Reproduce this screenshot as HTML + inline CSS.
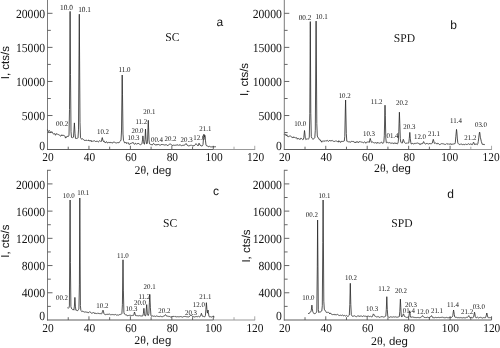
<!DOCTYPE html>
<html><head><meta charset="utf-8"><title>XRD patterns</title>
<style>html,body{margin:0;padding:0;background:#fff;}svg{display:block;}</style></head>
<body>
<svg width="500" height="348" viewBox="0 0 500 348" text-rendering="geometricPrecision">
<rect width="500" height="348" fill="#fff"/>
<path d="M47.5 -2 V149.95" stroke="#6c6c6c" stroke-width="0.9" fill="none"/>
<path d="M47.05 149.5 H213.3" stroke="#555" stroke-width="0.95" fill="none"/>
<path d="M213.3 149.5 H255.15" stroke="#8c8c8c" stroke-width="0.9" fill="none"/>
<path d="M47.5 115.53 h5 M47.5 81.46 h5 M47.5 47.39 h5 M47.5 13.32 h5 M47.5 132.56 h3.3 M47.5 98.5 h3.3 M47.5 64.42 h3.3 M47.5 30.36 h3.3 M68.22 149.5 v-2.8 M88.95 149.5 v-3.7 M109.67 149.5 v-2.8 M130.4 149.5 v-3.7 M151.12 149.5 v-2.8 M171.85 149.5 v-3.7 M192.57 149.5 v-2.8 M213.3 149.5 v-3.7 " stroke="#555" stroke-width="0.9" fill="none"/>
<path d="M234.02 149.5 v-2.8 M254.75 149.5 v-3.7 " stroke="#999" stroke-width="0.85" fill="none"/>
<text transform="translate(45.1 149.94) scale(1 1.06)" font-size="11.7" font-family='"Liberation Serif", serif' text-anchor="end" fill="#141414">0</text>
<text transform="translate(45.1 120.47) scale(1 1.06)" font-size="11.7" font-family='"Liberation Serif", serif' text-anchor="end" fill="#141414">5000</text>
<text transform="translate(45.1 86.4) scale(1 1.06)" font-size="11.7" font-family='"Liberation Serif", serif' text-anchor="end" fill="#141414">10000</text>
<text transform="translate(45.1 52.33) scale(1 1.06)" font-size="11.7" font-family='"Liberation Serif", serif' text-anchor="end" fill="#141414">15000</text>
<text transform="translate(45.1 18.26) scale(1 1.06)" font-size="11.7" font-family='"Liberation Serif", serif' text-anchor="end" fill="#141414">20000</text>
<text transform="translate(48 161.18) scale(1 1.06)" font-size="11.4" font-family='"Liberation Serif", serif' text-anchor="middle" fill="#141414">20</text>
<text transform="translate(89.45 161.18) scale(1 1.06)" font-size="11.4" font-family='"Liberation Serif", serif' text-anchor="middle" fill="#141414">40</text>
<text transform="translate(130.9 161.18) scale(1 1.06)" font-size="11.4" font-family='"Liberation Serif", serif' text-anchor="middle" fill="#141414">60</text>
<text transform="translate(172.35 161.18) scale(1 1.06)" font-size="11.4" font-family='"Liberation Serif", serif' text-anchor="middle" fill="#141414">80</text>
<text transform="translate(214.1 161.18) scale(1 1.06)" font-size="11.4" font-family='"Liberation Serif", serif' text-anchor="middle" fill="#141414">100</text>
<text transform="translate(255.55 161.18) scale(1 1.06)" font-size="11.4" font-family='"Liberation Serif", serif' text-anchor="middle" fill="#141414">120</text>
<text transform="translate(9.2 62.7) rotate(-90)" font-size="11.5" font-family='"Liberation Sans", sans-serif' text-anchor="middle" fill="#141414">I, cts/s</text>
<text x="153" y="173.5" font-size="11.4" text-anchor="middle" fill="#141414" font-family='"Liberation Sans", sans-serif'><tspan font-family='"Liberation Serif", serif' font-size="11.8">2θ</tspan>, deg</text>
<path d="M47.5 129.64 L48 130.63 L48.5 131.51 L49 131.07 L49.5 130.59 L50 131.33 L50.5 132.05 L51 132.81 L51.5 131.86 L52 131.63 L52.5 132.82 L53 133.24 L53.5 134.1 L54 134.21 L54.5 133.75 L55 133.61 L55.5 135.25 L56 134.35 L56.5 133.87 L57 133.61 L57.5 134.29 L58 134.66 L58.5 134.62 L59 134.85 L59.5 135.2 L60 135.63 L60.5 136.07 L61 135.85 L61.5 134.81 L62 135.82 L62.5 135.15 L63 135.64 L63.5 135.22 L64 135.89 L64.5 135.8 L65 136.33 L65.5 138.12 L66 137.11 L66.5 137.24 L67 136.23 L67.5 136.37 L68 136.81 L68.5 136.35 L69 135.15 L69.5 109.52 L70.1 11.4 L70.5 74.63 L71 131.49 L71.5 137.34 L72 137.18 L72.5 137.77 L73 137.67 L73.5 137.18 L74 129.15 L74.4 122.9 L75 133.72 L75.5 138.39 L76 138.66 L76.5 138.46 L77 137.92 L77.5 138.28 L78 137.75 L78.5 129.89 L79 55.14 L79.3 14.2 L80 122.63 L80.5 137.75 L81 138.68 L81.5 139.03 L82 138.9 L82.5 138.75 L83 139.04 L83.5 139.64 L84 140.31 L84.5 140.36 L85 140.46 L85.5 140.42 L86 140.41 L86.5 140.24 L87 140.47 L87.5 141.02 L88 140.35 L88.5 140.01 L89 141.05 L89.5 140.73 L90 140.96 L90.5 141.03 L91 140.26 L91.5 141.51 L92 141.71 L92.5 141.15 L93 141.23 L93.5 141.03 L94 140.58 L94.5 140.77 L95 141.07 L95.5 141.51 L96 141.53 L96.5 141.31 L97 141.78 L97.5 141.13 L98 141.55 L98.5 141.86 L99 141.43 L99.5 140.71 L100 140.84 L100.5 141.35 L101 141.57 L101.5 141.28 L102 138.19 L102.3 137.6 L103 140.61 L103.5 141.58 L104 140.86 L104.5 141.83 L105 142.77 L105.5 142.63 L106 141.87 L106.5 141.82 L107 142.08 L107.5 143.05 L108 142.71 L108.5 142.42 L109 142.89 L109.5 142.46 L110 143.07 L110.5 142.35 L111 142.2 L111.5 142.61 L112 143.04 L112.5 142.93 L113 142.78 L113.5 141.96 L114 142.11 L114.5 142.22 L115 142.3 L115.5 142.76 L116 142.6 L116.5 142.96 L117 142.83 L117.5 142.62 L118 142.66 L118.5 142.7 L119 142.72 L119.5 142.02 L120 141.55 L120.5 140.56 L121 140.47 L121.5 130.96 L122.2 75 L122.5 94.82 L123 134.12 L123.5 140.45 L124 141.47 L124.5 142.8 L125 142.83 L125.5 142.66 L126 142.14 L126.5 143.36 L127 143.41 L127.5 142.84 L128 143.29 L128.5 142.85 L129 144.46 L129.5 144.24 L130 143.99 L130.5 143.67 L131 142.91 L131.5 143.3 L132 142.71 L132.5 142.75 L132.8 142.6 L133.5 142.75 L134 143.9 L134.5 144.4 L135 143.64 L135.5 143.27 L136 143.96 L136.5 144.21 L137 143.7 L137.5 143.64 L138 143.63 L138.5 143.47 L139 143.6 L139.5 144.29 L140 144.35 L140.5 144.83 L141 144.29 L141.5 144.07 L142 143.44 L142.5 139.87 L142.9 135.9 L143.5 141.56 L144 143.91 L144.5 144.19 L145 139.38 L145.5 129 L146 139.25 L146.5 143.62 L147 143.91 L147.5 141.84 L148 127.17 L148.3 120.3 L149 139.86 L149.5 143.8 L150 144.25 L150.5 144.21 L151 144.82 L151.5 144.66 L152 144.74 L152.5 144.9 L153 143.88 L153.5 143.4 L154 144.02 L154.5 144.32 L155 144.95 L155.5 144.87 L156 145.06 L156.5 145.06 L157 144.2 L157.5 144.77 L158 144.55 L158.5 144.46 L159 144.54 L159.5 144.94 L160 145.13 L160.5 145.24 L161 144.48 L161.5 144.55 L162 144.05 L162.5 144.57 L163 144.97 L163.5 144.71 L164 144.93 L164.5 145.01 L165 145.28 L165.5 144.84 L166 144.69 L166.5 144.66 L167 145.41 L167.5 145.48 L168 145.13 L168.5 145.04 L169 144.73 L169.5 144.26 L170 143.9 L170.5 144.09 L171 144.3 L171.5 144.68 L172 145.48 L172.5 145.43 L173 145.28 L173.5 145.15 L174 145.2 L174.5 145.31 L175 145.06 L175.5 145.23 L176 145.31 L176.5 145.06 L177 144.96 L177.5 144.88 L178 144.84 L178.5 145.39 L179 144.66 L179.5 145.01 L180 145.04 L180.5 145.06 L181 145.28 L181.5 145.65 L182 145.49 L182.5 145.37 L183 145.2 L183.5 145.28 L184 145.59 L184.5 145.24 L185 144.59 L185.5 143.87 L186 144 L186.5 143.8 L187 145.08 L187.5 145.46 L188 145.43 L188.5 145.88 L189 145.45 L189.5 145.7 L190 145.8 L190.5 145.19 L191 144.98 L191.5 145.09 L192 145.64 L192.5 145.95 L193 145.36 L193.5 145.78 L194 145.54 L194.5 145.44 L195 145.24 L195.5 144.44 L196 143.6 L196.5 144.14 L197 144.95 L197.5 145.53 L198 145.99 L198.5 145.36 L199 143.2 L199.5 144.04 L200 145.21 L200.5 145.27 L201 146.05 L201.5 145.92 L202 145.5 L202.5 145.7 L203 144.54 L203.5 138.19 L203.9 134.2 L204.5 136.62 L205 135.5 L205.5 140.83 L206 144.91 L206.5 145.76 L207 145.81 L207.5 145.89 L208 146.65 L208.5 146.7 L209 146.78 L209.5 146.34 L210 146.54 L210.5 146.84 L211 146.46 L211.5 146.89 L212 146.7 L212.5 146.82 L213 146.75 L213.5 146.81 L214 147.06 L214.5 146.78 L215 147.14 L215.5 146.73 L216 146.55" stroke="#262626" stroke-width="0.8" fill="none" stroke-linejoin="round"/>
<text transform="translate(66.4 9.55) scale(1 1.06)" font-size="7.3" font-family='"Liberation Serif", serif' text-anchor="middle" fill="#141414">10.0</text>
<text transform="translate(84.6 11.85) scale(1 1.06)" font-size="7.3" font-family='"Liberation Serif", serif' text-anchor="middle" fill="#141414">10.1</text>
<text transform="translate(124.6 71.65) scale(1 1.06)" font-size="7.0" font-family='"Liberation Serif", serif' text-anchor="middle" fill="#141414">11.0</text>
<text transform="translate(62.1 125.81) scale(1 1.06)" font-size="6.9" font-family='"Liberation Serif", serif' text-anchor="middle" fill="#141414">00.2</text>
<text transform="translate(103 134.21) scale(1 1.06)" font-size="6.9" font-family='"Liberation Serif", serif' text-anchor="middle" fill="#141414">10.2</text>
<text transform="translate(149.4 113.61) scale(1 1.06)" font-size="6.9" font-family='"Liberation Serif", serif' text-anchor="middle" fill="#141414">20.1</text>
<text transform="translate(141.3 124.01) scale(1 1.06)" font-size="6.9" font-family='"Liberation Serif", serif' text-anchor="middle" fill="#141414">11.2</text>
<text transform="translate(137.5 133.41) scale(1 1.06)" font-size="6.9" font-family='"Liberation Serif", serif' text-anchor="middle" fill="#141414">20.0</text>
<text transform="translate(133.5 140.31) scale(1 1.06)" font-size="6.9" font-family='"Liberation Serif", serif' text-anchor="middle" fill="#141414">10.3</text>
<text transform="translate(157 142.21) scale(1 1.06)" font-size="6.9" font-family='"Liberation Serif", serif' text-anchor="middle" fill="#141414">00.4</text>
<text transform="translate(170.5 141.11) scale(1 1.06)" font-size="6.9" font-family='"Liberation Serif", serif' text-anchor="middle" fill="#141414">20.2</text>
<text transform="translate(186.6 141.81) scale(1 1.06)" font-size="6.9" font-family='"Liberation Serif", serif' text-anchor="middle" fill="#141414">20.3</text>
<text transform="translate(199.4 140.11) scale(1 1.06)" font-size="6.9" font-family='"Liberation Serif", serif' text-anchor="middle" fill="#141414">12.0</text>
<text transform="translate(205.4 130.71) scale(1 1.06)" font-size="6.9" font-family='"Liberation Serif", serif' text-anchor="middle" fill="#141414">21.1</text>
<text transform="translate(172.4 41.3) scale(1 1.03)" font-size="11.6" font-family='"Liberation Serif", serif' text-anchor="middle" fill="#141414">SC</text>
<text transform="translate(219.9 25.7) scale(1 1)" font-size="12" font-family='"Liberation Sans", sans-serif' text-anchor="middle" fill="#141414">a</text>
<path d="M284.3 -2 V149.95" stroke="#6c6c6c" stroke-width="0.9" fill="none"/>
<path d="M283.85 149.5 H450.1" stroke="#555" stroke-width="0.95" fill="none"/>
<path d="M450.1 149.5 H491.95" stroke="#8c8c8c" stroke-width="0.9" fill="none"/>
<path d="M284.3 115.53 h5 M284.3 81.46 h5 M284.3 47.39 h5 M284.3 13.32 h5 M284.3 132.56 h3.3 M284.3 98.5 h3.3 M284.3 64.42 h3.3 M284.3 30.36 h3.3 M305.03 149.5 v-2.8 M325.75 149.5 v-3.7 M346.48 149.5 v-2.8 M367.2 149.5 v-3.7 M387.93 149.5 v-2.8 M408.65 149.5 v-3.7 M429.38 149.5 v-2.8 M450.1 149.5 v-3.7 " stroke="#555" stroke-width="0.9" fill="none"/>
<path d="M470.82 149.5 v-2.8 M491.55 149.5 v-3.7 " stroke="#999" stroke-width="0.85" fill="none"/>
<text transform="translate(281.9 149.94) scale(1 1.06)" font-size="11.7" font-family='"Liberation Serif", serif' text-anchor="end" fill="#141414">0</text>
<text transform="translate(281.9 120.47) scale(1 1.06)" font-size="11.7" font-family='"Liberation Serif", serif' text-anchor="end" fill="#141414">5000</text>
<text transform="translate(281.9 86.4) scale(1 1.06)" font-size="11.7" font-family='"Liberation Serif", serif' text-anchor="end" fill="#141414">10000</text>
<text transform="translate(281.9 52.33) scale(1 1.06)" font-size="11.7" font-family='"Liberation Serif", serif' text-anchor="end" fill="#141414">15000</text>
<text transform="translate(281.9 18.26) scale(1 1.06)" font-size="11.7" font-family='"Liberation Serif", serif' text-anchor="end" fill="#141414">20000</text>
<text transform="translate(284.8 161.18) scale(1 1.06)" font-size="11.4" font-family='"Liberation Serif", serif' text-anchor="middle" fill="#141414">20</text>
<text transform="translate(326.25 161.18) scale(1 1.06)" font-size="11.4" font-family='"Liberation Serif", serif' text-anchor="middle" fill="#141414">40</text>
<text transform="translate(367.7 161.18) scale(1 1.06)" font-size="11.4" font-family='"Liberation Serif", serif' text-anchor="middle" fill="#141414">60</text>
<text transform="translate(409.15 161.18) scale(1 1.06)" font-size="11.4" font-family='"Liberation Serif", serif' text-anchor="middle" fill="#141414">80</text>
<text transform="translate(449.7 161.18) scale(1 1.06)" font-size="11.4" font-family='"Liberation Serif", serif' text-anchor="middle" fill="#141414">100</text>
<text transform="translate(491.15 161.18) scale(1 1.06)" font-size="11.4" font-family='"Liberation Serif", serif' text-anchor="middle" fill="#141414">120</text>
<text transform="translate(248.2 79.5) rotate(-90)" font-size="11.5" font-family='"Liberation Sans", sans-serif' text-anchor="middle" fill="#141414">I, cts/s</text>
<text x="392.5" y="172.4" font-size="11.4" text-anchor="middle" fill="#141414" font-family='"Liberation Sans", sans-serif'><tspan font-family='"Liberation Serif", serif' font-size="11.8">2θ</tspan>, deg</text>
<path d="M284.3 134.48 L284.8 133.91 L285.3 134.25 L285.8 135.21 L286.3 135.85 L286.8 134.64 L287.3 135.55 L287.8 136.71 L288.3 136.87 L288.8 136.31 L289.3 136.04 L289.8 136.22 L290.3 135.95 L290.8 136.4 L291.3 136.7 L291.8 136.91 L292.3 137.73 L292.8 137.4 L293.3 136.78 L293.8 137.85 L294.3 137.28 L294.8 137.45 L295.3 137.73 L295.8 137.79 L296.3 137.57 L296.8 137.91 L297.3 139.22 L297.8 138.44 L298.3 138.43 L298.8 139.07 L299.3 139.16 L299.8 139.25 L300.3 139.37 L300.8 138.16 L301.3 138.28 L301.8 138.81 L302.3 139.19 L302.8 139.7 L303.3 139.43 L303.8 137.52 L304.5 130.5 L304.8 132.82 L305.3 138.32 L305.8 139.57 L306.3 139.29 L306.8 138.94 L307.3 138.69 L307.8 139.26 L308.3 139.21 L308.8 138.54 L309.3 137.17 L309.8 113.33 L310.3 21.6 L310.8 113.28 L311.3 136.51 L311.8 137.99 L312.3 138.43 L312.8 139.29 L313.3 138.94 L313.8 138.74 L314.3 138.39 L314.8 137.8 L315.3 130.28 L315.8 61.96 L316.1 21.1 L316.8 123.68 L317.3 136.06 L317.8 137.14 L318.3 138.21 L318.8 138.29 L319.3 139.68 L319.8 139.84 L320.3 139.84 L320.8 141.14 L321.3 141.07 L321.8 142.24 L322.3 141.39 L322.8 140.8 L323.3 140.81 L323.8 141.45 L324.3 141.02 L324.8 141.09 L325.3 141.16 L325.8 140.61 L326.3 140.87 L326.8 140.72 L327.3 140.38 L327.8 141.14 L328.3 141.34 L328.8 141.18 L329.3 140.75 L329.8 140.17 L330.3 140.99 L330.8 141.05 L331.3 140.45 L331.8 140.91 L332.3 140.5 L332.8 140.97 L333.3 141.22 L333.8 141.4 L334.3 141.42 L334.8 141.43 L335.3 140.92 L335.8 141.05 L336.3 141.06 L336.8 141.19 L337.3 141.45 L337.8 141.69 L338.3 142.19 L338.8 140.71 L339.3 141.37 L339.8 141.38 L340.3 142.37 L340.8 142.19 L341.3 141.11 L341.8 141.55 L342.3 141.33 L342.8 141.83 L343.3 141.17 L343.8 141.24 L344.3 140.95 L344.8 136.33 L345.3 111.01 L345.6 100 L346.3 133.33 L346.8 141.26 L347.3 141.57 L347.8 141.26 L348.3 141.66 L348.8 141.96 L349.3 141.81 L349.8 141.83 L350.3 142.41 L350.8 141.65 L351.3 141.61 L351.8 141.1 L352.3 141.39 L352.8 141.5 L353.3 141.46 L353.8 141.56 L354.3 142.56 L354.8 142.16 L355.3 142.06 L355.8 142.92 L356.3 142.37 L356.8 141.55 L357.3 142.09 L357.8 141.78 L358.3 142.66 L358.8 141.88 L359.3 141.87 L359.8 141.49 L360.3 142.01 L360.8 141.79 L361.3 142.07 L361.8 142.07 L362.3 141.99 L362.8 142.55 L363.3 142.76 L363.8 142.51 L364.3 142.07 L364.8 141.87 L365.3 142.3 L365.8 143.26 L366.3 142.54 L366.8 142.17 L367.3 142.08 L367.8 141.91 L368.3 141.89 L368.8 142.14 L369.3 142.43 L369.8 140.03 L370.2 138.4 L370.8 140.35 L371.3 142.19 L371.8 142.46 L372.3 142.08 L372.8 142.01 L373.3 142.38 L373.8 142.9 L374.3 142.96 L374.8 142.83 L375.3 142.6 L375.8 142.76 L376.3 142.71 L376.8 143.49 L377.3 142.57 L377.8 142.53 L378.3 143.12 L378.8 142.77 L379.3 143.27 L379.8 142.92 L380.3 142.86 L380.8 142.66 L381.3 142.22 L381.8 142.21 L382.3 143.33 L382.8 143.12 L383.3 142.94 L383.8 142.56 L384.3 135.74 L385 105.2 L385.3 115.47 L385.8 138.07 L386.3 142.69 L386.8 142.68 L387.3 142.32 L387.8 142.61 L388.3 142.62 L388.8 143.05 L389.3 142.74 L389.8 142.53 L390.3 142.72 L390.8 143.47 L391.3 143.17 L391.8 143.15 L392.3 143.09 L392.8 143.18 L393.3 143.44 L393.8 143.7 L394.3 142.72 L394.8 143.44 L395.3 143.21 L395.8 143.01 L396.3 143.89 L396.8 143.27 L397.3 143.75 L397.8 143.45 L398.3 141.47 L398.8 131.74 L399.4 112.2 L399.8 123.5 L400.3 138.68 L400.8 142.3 L401.3 142.79 L401.8 142.56 L402.3 143.03 L402.8 140.88 L403.3 139.3 L403.8 140.7 L404.3 142.34 L404.8 142.82 L405.3 143.18 L405.8 143.38 L406.3 143.18 L406.8 143.25 L407.3 142.83 L407.8 143.33 L408.3 143.04 L408.8 142.86 L409.3 138.39 L409.8 132.4 L410.3 138.7 L410.8 142.5 L411.3 144.06 L411.8 143.65 L412.3 143.51 L412.8 143.24 L413.3 143.96 L413.8 144.15 L414.3 143.85 L414.8 143.18 L415.3 143.25 L415.8 143.66 L416.3 143.43 L416.8 143.13 L417.3 143.03 L417.8 143.14 L418.3 143.45 L418.8 143.34 L419.3 143.53 L419.8 144.55 L420.3 144.56 L420.8 143.62 L421.3 143.76 L421.8 143.72 L422.3 143.61 L422.8 143.65 L423.3 142.08 L423.6 141.6 L424.3 142.99 L424.8 143.56 L425.3 144.11 L425.8 144.13 L426.3 143.43 L426.8 143.49 L427.3 143.4 L427.8 143.92 L428.3 143.9 L428.8 144.12 L429.3 143.89 L429.8 143.19 L430.3 143.74 L430.8 143.85 L431.3 143.97 L431.8 143.35 L432.3 143.02 L432.8 140.79 L433.3 139.3 L433.8 141.07 L434.3 143.27 L434.8 143.51 L435.3 143.19 L435.8 142.83 L436.3 143.33 L436.8 144.08 L437.3 143.96 L437.8 143.2 L438.3 143.4 L438.8 143.89 L439.3 144.49 L439.8 144.53 L440.3 144.29 L440.8 144.15 L441.3 143.7 L441.8 143.74 L442.3 143.8 L442.8 143.68 L443.3 143.92 L443.8 143.86 L444.3 144.08 L444.8 144.52 L445.3 144.45 L445.8 144.33 L446.3 144.07 L446.8 143.57 L447.3 143.86 L447.8 144.17 L448.3 143.78 L448.8 144.39 L449.3 144.08 L449.8 144.21 L450.3 144.03 L450.8 143.67 L451.3 144.62 L451.8 143.9 L452.3 144.32 L452.8 143.99 L453.3 144.13 L453.8 143.81 L454.3 143.77 L454.8 143.92 L455.3 142.74 L455.8 136.76 L456.5 129.4 L456.8 131.54 L457.3 138.07 L457.8 142.81 L458.3 143.67 L458.8 144.2 L459.3 144.31 L459.8 144.61 L460.3 144.46 L460.8 143.92 L461.3 144.33 L461.8 143.92 L462.3 144.37 L462.8 144.78 L463.3 144.63 L463.8 144.22 L464.3 144.64 L464.8 144.46 L465.3 143.95 L465.8 144.07 L466.3 144.67 L466.8 144.34 L467.3 144.36 L467.8 144.23 L468.3 143.76 L468.8 143.97 L469.3 144.32 L469.8 144.4 L470.3 144.31 L470.8 143.65 L471.3 144.49 L471.8 144.61 L472.3 144.67 L472.8 144.27 L473.3 142.61 L473.6 142.2 L474.3 143.55 L474.8 144.74 L475.3 143.98 L475.8 144.14 L476.3 144.03 L476.8 144.37 L477.3 144.68 L477.8 143.76 L478.3 141.34 L478.8 137.13 L479.5 132.1 L479.8 132.59 L480.3 137.16 L481 140 L481.3 141.4 L481.8 142.98 L482.3 144.42 L482.8 143.99 L483.3 144.61 L483.8 143.94 L484.3 144.72 L484.8 144.45" stroke="#262626" stroke-width="0.8" fill="none" stroke-linejoin="round"/>
<text transform="translate(305 19.62) scale(1 1.06)" font-size="7.2" font-family='"Liberation Serif", serif' text-anchor="middle" fill="#141414">00.2</text>
<text transform="translate(321.5 19.15) scale(1 1.06)" font-size="7.0" font-family='"Liberation Serif", serif' text-anchor="middle" fill="#141414">10.1</text>
<text transform="translate(300.2 126.21) scale(1 1.06)" font-size="6.9" font-family='"Liberation Serif", serif' text-anchor="middle" fill="#141414">10.0</text>
<text transform="translate(344.7 98.41) scale(1 1.06)" font-size="6.9" font-family='"Liberation Serif", serif' text-anchor="middle" fill="#141414">10.2</text>
<text transform="translate(376.6 104.11) scale(1 1.06)" font-size="6.9" font-family='"Liberation Serif", serif' text-anchor="middle" fill="#141414">11.2</text>
<text transform="translate(402 104.91) scale(1 1.06)" font-size="6.9" font-family='"Liberation Serif", serif' text-anchor="middle" fill="#141414">20.2</text>
<text transform="translate(369 135.81) scale(1 1.06)" font-size="6.9" font-family='"Liberation Serif", serif' text-anchor="middle" fill="#141414">10.3</text>
<text transform="translate(392.5 137.61) scale(1 1.06)" font-size="6.9" font-family='"Liberation Serif", serif' text-anchor="middle" fill="#141414">01.4</text>
<text transform="translate(409.3 129.11) scale(1 1.06)" font-size="6.9" font-family='"Liberation Serif", serif' text-anchor="middle" fill="#141414">20.3</text>
<text transform="translate(420 139.21) scale(1 1.06)" font-size="6.9" font-family='"Liberation Serif", serif' text-anchor="middle" fill="#141414">12.0</text>
<text transform="translate(434 135.71) scale(1 1.06)" font-size="6.9" font-family='"Liberation Serif", serif' text-anchor="middle" fill="#141414">21.1</text>
<text transform="translate(456 123.41) scale(1 1.06)" font-size="6.9" font-family='"Liberation Serif", serif' text-anchor="middle" fill="#141414">11.4</text>
<text transform="translate(470.3 139.71) scale(1 1.06)" font-size="6.9" font-family='"Liberation Serif", serif' text-anchor="middle" fill="#141414">21.2</text>
<text transform="translate(481 126.71) scale(1 1.06)" font-size="6.9" font-family='"Liberation Serif", serif' text-anchor="middle" fill="#141414">03.0</text>
<text transform="translate(404.5 42.1) scale(1 1.03)" font-size="11.6" font-family='"Liberation Serif", serif' text-anchor="middle" fill="#141414">SPD</text>
<text transform="translate(453.7 28.6) scale(1 1)" font-size="12" font-family='"Liberation Sans", sans-serif' text-anchor="middle" fill="#141414">b</text>
<path d="M47.5 169.89 V320.45" stroke="#6c6c6c" stroke-width="0.9" fill="none"/>
<path d="M47.05 320 H213.3" stroke="#555" stroke-width="0.95" fill="none"/>
<path d="M213.3 320 H255.15" stroke="#8c8c8c" stroke-width="0.9" fill="none"/>
<path d="M47.5 292.78 h5 M47.5 265.56 h5 M47.5 238.34 h5 M47.5 211.12 h5 M47.5 183.9 h5 M47.5 306.39 h3.3 M47.5 279.17 h3.3 M47.5 251.95 h3.3 M47.5 224.73 h3.3 M47.5 197.51 h3.3 M47.5 170.29 h3.3 M68.22 320 v-2.8 M88.95 320 v-3.7 M109.67 320 v-2.8 M130.4 320 v-3.7 M151.12 320 v-2.8 M171.85 320 v-3.7 M192.57 320 v-2.8 M213.3 320 v-3.7 " stroke="#555" stroke-width="0.9" fill="none"/>
<path d="M234.02 320 v-2.8 M254.75 320 v-3.7 " stroke="#999" stroke-width="0.85" fill="none"/>
<text transform="translate(45.1 319.89) scale(1 1.06)" font-size="11.7" font-family='"Liberation Serif", serif' text-anchor="end" fill="#141414">0</text>
<text transform="translate(45.1 297.47) scale(1 1.06)" font-size="11.7" font-family='"Liberation Serif", serif' text-anchor="end" fill="#141414">4000</text>
<text transform="translate(45.1 270.25) scale(1 1.06)" font-size="11.7" font-family='"Liberation Serif", serif' text-anchor="end" fill="#141414">8000</text>
<text transform="translate(45.1 243.03) scale(1 1.06)" font-size="11.7" font-family='"Liberation Serif", serif' text-anchor="end" fill="#141414">12000</text>
<text transform="translate(45.1 215.81) scale(1 1.06)" font-size="11.7" font-family='"Liberation Serif", serif' text-anchor="end" fill="#141414">16000</text>
<text transform="translate(45.1 188.59) scale(1 1.06)" font-size="11.7" font-family='"Liberation Serif", serif' text-anchor="end" fill="#141414">20000</text>
<text transform="translate(48 331.98) scale(1 1.06)" font-size="11.4" font-family='"Liberation Serif", serif' text-anchor="middle" fill="#141414">20</text>
<text transform="translate(89.45 331.98) scale(1 1.06)" font-size="11.4" font-family='"Liberation Serif", serif' text-anchor="middle" fill="#141414">40</text>
<text transform="translate(130.9 331.98) scale(1 1.06)" font-size="11.4" font-family='"Liberation Serif", serif' text-anchor="middle" fill="#141414">60</text>
<text transform="translate(172.35 331.98) scale(1 1.06)" font-size="11.4" font-family='"Liberation Serif", serif' text-anchor="middle" fill="#141414">80</text>
<text transform="translate(213.5 331.98) scale(1 1.06)" font-size="11.4" font-family='"Liberation Serif", serif' text-anchor="middle" fill="#141414">100</text>
<text transform="translate(254.95 331.98) scale(1 1.06)" font-size="11.4" font-family='"Liberation Serif", serif' text-anchor="middle" fill="#141414">120</text>
<text transform="translate(9 241.2) rotate(-90)" font-size="11.5" font-family='"Liberation Sans", sans-serif' text-anchor="middle" fill="#141414">I, cts/s</text>
<text x="152.8" y="344.4" font-size="11.4" text-anchor="middle" fill="#141414" font-family='"Liberation Sans", sans-serif'><tspan font-family='"Liberation Serif", serif' font-size="11.8">2θ</tspan>, deg</text>
<path d="M67.4 307.63 L67.9 307.96 L68.4 308.25 L68.9 307.71 L69.4 305.91 L70.1 200 L70.4 262.36 L70.9 306.56 L71.4 308.21 L71.9 309.03 L72.4 309.36 L72.9 309.77 L73.4 309.42 L73.9 310.17 L74.4 306.05 L74.9 297.4 L75.4 306.17 L75.9 310.25 L76.4 310.33 L76.9 310.12 L77.4 310.58 L77.9 310.55 L78.4 309.71 L78.9 309.12 L79.4 284.88 L79.8 198 L80.4 305.63 L80.9 310.6 L81.4 310.99 L81.9 311.61 L82.4 311.27 L82.9 311.27 L83.4 311.55 L83.9 311.82 L84.4 311.99 L84.9 312.3 L85.4 311.9 L85.9 312.27 L86.4 312.26 L86.9 311.87 L87.4 312.04 L87.9 312.76 L88.4 312.7 L88.9 312.37 L89.4 311.77 L89.9 312.06 L90.4 312.21 L90.9 312.52 L91.4 313.27 L91.9 313.15 L92.4 313.03 L92.9 312.7 L93.4 312.55 L93.9 312.8 L94.4 312.85 L94.9 313.82 L95.4 313.3 L95.9 313.1 L96.4 313.51 L96.9 313.42 L97.4 313.08 L97.9 313.64 L98.4 313.46 L98.9 313.17 L99.4 313.52 L99.9 313.71 L100.4 313.59 L100.9 313.84 L101.4 313.96 L101.9 313.38 L102.4 311.66 L103 310.2 L103.4 311.08 L103.9 313.54 L104.4 314.23 L104.9 314.47 L105.4 314.68 L105.9 314.34 L106.4 314.49 L106.9 313.95 L107.4 314.32 L107.9 314.4 L108.4 314.34 L108.9 314.26 L109.4 314.1 L109.9 314.36 L110.4 314.74 L110.9 314.51 L111.4 314.66 L111.9 314.45 L112.4 314.62 L112.9 314.4 L113.4 314.67 L113.9 314.64 L114.4 314.77 L114.9 314.63 L115.4 314.46 L115.9 314.62 L116.4 315 L116.9 315.27 L117.4 314.94 L117.9 315.09 L118.4 315.14 L118.9 315.06 L119.4 314.56 L119.9 314.72 L120.4 314.36 L120.9 314.51 L121.4 314.19 L121.9 313.53 L122.4 304.68 L123 259.8 L123.4 290.86 L123.9 312.25 L124.4 314.02 L124.9 314.44 L125.4 314.71 L125.9 314.82 L126.4 314.87 L126.9 315.06 L127.4 315.91 L127.9 315.62 L128.4 315.53 L128.9 315.34 L129.4 315.29 L129.9 315.31 L130.4 315.25 L130.9 315.62 L131.4 315.52 L131.9 315.73 L132.4 315.39 L132.9 315.7 L133.4 315.48 L133.9 314.43 L134.5 312 L134.9 313.17 L135.4 315.45 L135.9 315.64 L136.4 315.67 L136.9 315.54 L137.4 315.73 L137.9 315.69 L138.4 315.82 L138.9 315.89 L139.4 315.71 L139.9 315.51 L140.4 315.82 L140.9 316.04 L141.4 316.07 L141.9 315.71 L142.4 315.92 L142.9 315.81 L143.4 313.39 L143.9 308.3 L144.4 313.28 L144.9 315.74 L145.4 316 L145.9 315.03 L146.4 308.02 L146.7 304.6 L147.4 314.41 L147.9 315.39 L148.4 315.38 L148.9 313.45 L149.4 302.22 L149.8 294.4 L150.4 307.78 L150.9 315.12 L151.4 316.29 L151.9 316.12 L152.4 315.98 L152.9 315.87 L153.4 316.24 L153.9 316.23 L154.4 316.06 L154.9 316.4 L155.4 316.45 L155.9 316.44 L156.4 315.99 L156.9 316.16 L157.4 316.36 L157.9 316.09 L158.4 316.41 L158.9 316.63 L159.4 316.63 L159.9 316.3 L160.4 316.2 L160.9 316.48 L161.4 316.59 L161.9 316.68 L162.4 316.71 L162.9 316.47 L163.4 316.31 L163.9 315.86 L164.4 315.81 L164.9 315.47 L165.4 314.6 L165.9 314.99 L166.4 315.92 L166.9 316.38 L167.4 316.2 L167.9 316.25 L168.4 316.19 L168.9 316.76 L169.4 316.46 L169.9 316.65 L170.4 316.92 L170.9 317.02 L171.4 316.97 L171.9 316.99 L172.4 316.47 L172.9 316.46 L173.4 316.39 L173.9 316.45 L174.4 317.02 L174.9 316.43 L175.4 316.64 L175.9 316.38 L176.4 316.77 L176.9 316.91 L177.4 316.62 L177.9 317 L178.4 316.77 L178.9 316.92 L179.4 316.8 L179.9 316.6 L180.4 316.56 L180.9 316.6 L181.4 316.75 L181.9 316.72 L182.4 317.12 L182.9 316.8 L183.4 316.64 L183.9 316.54 L184.4 316.5 L184.9 316.37 L185.4 316.41 L185.9 316.77 L186.4 316.74 L186.9 316.69 L187.4 316.77 L187.9 316.93 L188.4 316.9 L188.9 316.91 L189.4 316.58 L189.9 316.2 L190.4 315.41 L191 315 L191.4 315.12 L191.9 315.9 L192.4 316.46 L192.9 316.65 L193.4 316.69 L193.9 316.66 L194.4 316.97 L194.9 316.79 L195.4 316.61 L195.9 316.77 L196.4 316.6 L196.9 316.54 L197.4 316.73 L197.9 316.48 L198.4 316.12 L198.9 316.62 L199.4 316.92 L199.9 316.52 L200.4 316.3 L200.9 315.08 L201.4 313.3 L201.9 314.79 L202.4 316.24 L202.9 316.63 L203.4 316.39 L203.9 316.8 L204.4 316.73 L204.9 316.71 L205.4 315.69 L205.9 309.39 L206.4 302.7 L206.9 309.2 L207.4 313.16 L208 310 L208.4 312.38 L208.9 315.94 L209.4 316.85 L209.9 317 L210.4 316.74 L210.9 316.83 L211.4 317.12 L211.9 317.02 L212.4 316.43 L213 315.8 L213.4 316.13 L213.9 316.93 L214.4 316.97" stroke="#262626" stroke-width="0.8" fill="none" stroke-linejoin="round"/>
<text transform="translate(68.75 198.16) scale(1 1.06)" font-size="6.9" font-family='"Liberation Serif", serif' text-anchor="middle" fill="#141414">10.0</text>
<text transform="translate(83.25 195.41) scale(1 1.06)" font-size="6.9" font-family='"Liberation Serif", serif' text-anchor="middle" fill="#141414">10.1</text>
<text transform="translate(62 299.81) scale(1 1.06)" font-size="6.9" font-family='"Liberation Serif", serif' text-anchor="middle" fill="#141414">00.2</text>
<text transform="translate(102.3 307.61) scale(1 1.06)" font-size="6.9" font-family='"Liberation Serif", serif' text-anchor="middle" fill="#141414">10.2</text>
<text transform="translate(122.9 257.61) scale(1 1.06)" font-size="6.9" font-family='"Liberation Serif", serif' text-anchor="middle" fill="#141414">11.0</text>
<text transform="translate(149.6 289.21) scale(1 1.06)" font-size="6.9" font-family='"Liberation Serif", serif' text-anchor="middle" fill="#141414">20.1</text>
<text transform="translate(144.3 298.61) scale(1 1.06)" font-size="6.9" font-family='"Liberation Serif", serif' text-anchor="middle" fill="#141414">11.2</text>
<text transform="translate(140 305.11) scale(1 1.06)" font-size="6.9" font-family='"Liberation Serif", serif' text-anchor="middle" fill="#141414">20.0</text>
<text transform="translate(131.5 310.71) scale(1 1.06)" font-size="6.9" font-family='"Liberation Serif", serif' text-anchor="middle" fill="#141414">10.3</text>
<text transform="translate(164.3 313.21) scale(1 1.06)" font-size="6.9" font-family='"Liberation Serif", serif' text-anchor="middle" fill="#141414">20.2</text>
<text transform="translate(191 315.01) scale(1 1.06)" font-size="6.9" font-family='"Liberation Serif", serif' text-anchor="middle" fill="#141414">20.3</text>
<text transform="translate(198.8 306.51) scale(1 1.06)" font-size="6.9" font-family='"Liberation Serif", serif' text-anchor="middle" fill="#141414">12.0</text>
<text transform="translate(205.4 299.11) scale(1 1.06)" font-size="6.9" font-family='"Liberation Serif", serif' text-anchor="middle" fill="#141414">21.1</text>
<text transform="translate(170.1 227) scale(1 1.03)" font-size="11.6" font-family='"Liberation Serif", serif' text-anchor="middle" fill="#141414">SC</text>
<text transform="translate(216 195) scale(1 1)" font-size="12" font-family='"Liberation Sans", sans-serif' text-anchor="middle" fill="#141414">c</text>
<path d="M284.3 169.89 V320.45" stroke="#6c6c6c" stroke-width="0.9" fill="none"/>
<path d="M283.85 320 H491.55" stroke="#555" stroke-width="0.95" fill="none"/>
<path d="M284.3 292.78 h5 M284.3 265.56 h5 M284.3 238.34 h5 M284.3 211.12 h5 M284.3 183.9 h5 M284.3 306.39 h3.3 M284.3 279.17 h3.3 M284.3 251.95 h3.3 M284.3 224.73 h3.3 M284.3 197.51 h3.3 M284.3 170.29 h3.3 M305.03 320 v-2.8 M325.75 320 v-3.7 M346.48 320 v-2.8 M367.2 320 v-3.7 M387.93 320 v-2.8 M408.65 320 v-3.7 M429.38 320 v-2.8 M450.1 320 v-3.7 M470.82 320 v-2.8 M491.55 320 v-3.7 " stroke="#555" stroke-width="0.9" fill="none"/>
<text transform="translate(281.9 319.89) scale(1 1.06)" font-size="11.7" font-family='"Liberation Serif", serif' text-anchor="end" fill="#141414">0</text>
<text transform="translate(281.9 297.47) scale(1 1.06)" font-size="11.7" font-family='"Liberation Serif", serif' text-anchor="end" fill="#141414">4000</text>
<text transform="translate(281.9 270.25) scale(1 1.06)" font-size="11.7" font-family='"Liberation Serif", serif' text-anchor="end" fill="#141414">8000</text>
<text transform="translate(281.9 243.03) scale(1 1.06)" font-size="11.7" font-family='"Liberation Serif", serif' text-anchor="end" fill="#141414">12000</text>
<text transform="translate(281.9 215.81) scale(1 1.06)" font-size="11.7" font-family='"Liberation Serif", serif' text-anchor="end" fill="#141414">16000</text>
<text transform="translate(281.9 188.59) scale(1 1.06)" font-size="11.7" font-family='"Liberation Serif", serif' text-anchor="end" fill="#141414">20000</text>
<text transform="translate(284.8 331.98) scale(1 1.06)" font-size="11.4" font-family='"Liberation Serif", serif' text-anchor="middle" fill="#141414">20</text>
<text transform="translate(326.25 331.98) scale(1 1.06)" font-size="11.4" font-family='"Liberation Serif", serif' text-anchor="middle" fill="#141414">40</text>
<text transform="translate(367.7 331.98) scale(1 1.06)" font-size="11.4" font-family='"Liberation Serif", serif' text-anchor="middle" fill="#141414">60</text>
<text transform="translate(409.15 331.98) scale(1 1.06)" font-size="11.4" font-family='"Liberation Serif", serif' text-anchor="middle" fill="#141414">80</text>
<text transform="translate(450.3 331.98) scale(1 1.06)" font-size="11.4" font-family='"Liberation Serif", serif' text-anchor="middle" fill="#141414">100</text>
<text transform="translate(491.75 331.98) scale(1 1.06)" font-size="11.4" font-family='"Liberation Serif", serif' text-anchor="middle" fill="#141414">120</text>
<text transform="translate(250 246) rotate(-90)" font-size="11.5" font-family='"Liberation Sans", sans-serif' text-anchor="middle" fill="#141414">I, cts/s</text>
<text x="389.5" y="344.8" font-size="11.4" text-anchor="middle" fill="#141414" font-family='"Liberation Sans", sans-serif'><tspan font-family='"Liberation Serif", serif' font-size="11.8">2θ</tspan>, deg</text>
<path d="M308.3 313.08 L308.8 313.85 L309.3 312.81 L309.8 312.6 L310.3 312.25 L310.8 311.89 L311.3 310.17 L311.9 305.1 L312.3 308.67 L312.8 311.76 L313.3 312.6 L313.8 313.5 L314.3 313.63 L314.8 313.59 L315.3 313.5 L315.8 313.05 L316.3 312.62 L316.8 311.13 L317.3 266.82 L317.6 220 L318.3 309.33 L318.8 312.58 L319.3 312.03 L319.8 311.86 L320.3 312.1 L320.8 311.65 L321.3 311.12 L321.8 310.97 L322.3 305.71 L322.8 242.59 L323.1 200 L323.8 301.2 L324.3 309.23 L324.8 310.07 L325.3 310.94 L325.8 311.25 L326.3 312.44 L326.8 312.44 L327.3 312.26 L327.8 312.59 L328.3 312.41 L328.8 312.53 L329.3 312.92 L329.8 313.91 L330.3 312.9 L330.8 313.51 L331.3 314.13 L331.8 314.26 L332.3 314.77 L332.8 314.59 L333.3 314.51 L333.8 314.48 L334.3 314.32 L334.8 315.1 L335.3 314.56 L335.8 314.75 L336.3 314.74 L336.8 314.7 L337.3 314.29 L337.8 314.74 L338.3 315.09 L338.8 315.24 L339.3 315.53 L339.8 315.36 L340.3 315.17 L340.8 315.42 L341.3 315.63 L341.8 315.25 L342.3 314.96 L342.8 315.02 L343.3 315.67 L343.8 315.9 L344.3 315.44 L344.8 315.58 L345.3 315.86 L345.8 316.11 L346.3 315.63 L346.8 315.59 L347.3 316.05 L347.8 316.49 L348.3 316.36 L348.8 315.48 L349.3 315.02 L349.8 304.57 L350.3 283.3 L350.8 304.46 L351.3 314.79 L351.8 315.6 L352.3 316.29 L352.8 316.24 L353.3 316.18 L353.8 316.06 L354.3 315.82 L354.8 315.9 L355.3 316.35 L355.8 316.41 L356.3 316.75 L356.8 316.42 L357.3 316.24 L357.8 315.75 L358.3 316.14 L358.8 315.71 L359.3 316.46 L359.8 316.14 L360.3 316.22 L360.8 315.89 L361.3 316.01 L361.8 315.95 L362.3 316.5 L362.8 316.46 L363.3 316.08 L363.8 315.75 L364.3 316.14 L364.8 316.18 L365.3 316.04 L365.8 316.45 L366.3 316.4 L366.8 316.47 L367.3 316.31 L367.8 316.28 L368.3 316.3 L368.8 316.02 L369.3 316.51 L369.8 316.63 L370.3 316.13 L370.8 316.43 L371.3 316.81 L371.8 316.68 L372.3 316.68 L372.8 315.32 L373.4 313.9 L373.8 314.32 L374.3 315.7 L374.8 315.97 L375.3 316.21 L375.8 316.58 L376.3 316.78 L376.8 317.03 L377.3 316.86 L377.8 316.53 L378.3 316.78 L378.8 316.72 L379.3 317.2 L379.8 317.41 L380.3 317.24 L380.8 316.67 L381.3 316.62 L381.8 316.79 L382.3 316.63 L382.8 316.88 L383.3 317.01 L383.8 317.09 L384.3 316.96 L384.8 316.61 L385.3 316.45 L385.8 316.06 L386.3 309.52 L386.8 296.7 L387.3 309.67 L387.8 316.45 L388.3 317.01 L388.8 317.14 L389.3 317.31 L389.8 317.28 L390.3 316.69 L390.8 317.1 L391.3 317.12 L391.8 316.92 L392.3 317.1 L392.8 317.11 L393.3 317.04 L393.8 316.62 L394.3 316.91 L394.8 317.13 L395.3 317.06 L395.8 316.67 L396.3 317.02 L396.8 317.21 L397.3 317.14 L397.8 317.17 L398.3 316.97 L398.8 316.77 L399.3 316.61 L399.8 311.65 L400.4 299.1 L400.8 307.52 L401.3 316.13 L401.8 317.05 L402.3 316.35 L402.8 315.34 L403.4 313.8 L403.8 314.6 L404.3 316.32 L404.8 316.47 L405.3 317.07 L405.8 316.99 L406.3 317.27 L406.8 317.53 L407.3 317.26 L407.8 317.43 L408.3 317.29 L408.8 316.72 L409.3 313.46 L409.7 310.8 L410.3 315.54 L410.8 317.34 L411.3 317.07 L411.8 317.38 L412.3 317.13 L412.8 316.87 L413.3 317.41 L413.8 317.04 L414.3 317.47 L414.8 317.4 L415.3 317.55 L415.8 317.51 L416.3 317.65 L416.8 317.51 L417.3 317.52 L417.8 317.45 L418.3 317.62 L418.8 317.35 L419.3 317.57 L419.8 317.76 L420.3 317.47 L420.8 317.47 L421.3 317.16 L421.8 316.58 L422.5 315.6 L422.8 315.83 L423.3 316.62 L423.8 317.2 L424.3 317.38 L424.8 317.45 L425.3 317.57 L425.8 317.06 L426.3 317.6 L426.8 317.43 L427.3 317.24 L427.8 317.27 L428.3 317.46 L428.8 317.62 L429.3 317.4 L429.8 317.44 L430.3 316.98 L430.8 316.8 L431.3 315.85 L431.6 315.6 L432.3 316.88 L432.8 317.76 L433.3 317.81 L433.8 317.4 L434.3 317.78 L434.8 317.5 L435.3 317.47 L435.8 317.34 L436.3 317.53 L436.8 317.61 L437.3 317.56 L437.8 317.46 L438.3 317.44 L438.8 317.38 L439.3 317.67 L439.8 317.44 L440.3 317.44 L440.8 317.43 L441.3 317.31 L441.8 317.39 L442.3 317.14 L442.8 317.47 L443.3 317.62 L443.8 317.48 L444.3 317.85 L444.8 317.45 L445.3 317.62 L445.8 317.66 L446.3 317.45 L446.8 317.45 L447.3 317.69 L447.8 317.6 L448.3 317.61 L448.8 317.86 L449.3 317.69 L449.8 317.22 L450.3 317.25 L450.8 317.6 L451.3 317.5 L451.8 317.24 L452.3 316.77 L452.8 315.62 L453.3 311.73 L453.6 310 L454.3 314.52 L454.8 317.08 L455.3 317.33 L455.8 317.4 L456.3 317.43 L456.8 317.31 L457.3 317.57 L457.8 317.77 L458.3 317.72 L458.8 317.5 L459.3 317.77 L459.8 317.62 L460.3 317.72 L460.8 317.43 L461.3 317.67 L461.8 317.78 L462.3 317.93 L462.8 317.72 L463.3 317.73 L463.8 317.52 L464.3 317.76 L464.8 317.82 L465.3 317.9 L465.8 317.62 L466.3 317.34 L466.8 317.48 L467.3 317.47 L467.8 317.1 L468.3 316.44 L468.8 315.6 L469.3 316.54 L469.8 317.58 L470.3 317.74 L470.8 317.44 L471.3 317.41 L471.8 317.45 L472.3 317.68 L472.8 317.78 L473.3 317.44 L473.8 316.08 L474.5 312.2 L474.8 313.19 L475.3 316.62 L475.8 317.63 L476.3 317.87 L476.8 317.3 L477.3 317.15 L477.8 317.27 L478.3 317.72 L478.8 318.01 L479.3 317.63 L479.8 317.43 L480.3 317.35 L480.8 317.35 L481.3 317.65 L481.8 317.58 L482.3 318.02 L482.8 317.92 L483.3 317.59 L483.8 317.67 L484.3 317.61 L484.8 317.77 L485.3 317.81 L485.8 317.13 L486.3 315.23 L486.8 313 L487.3 315.09 L487.8 317.19 L488.3 317.74 L488.8 317.62 L489.3 317.49 L489.8 317.86 L490.3 317.73 L490.8 317.56 L491.3 317.72" stroke="#262626" stroke-width="0.8" fill="none" stroke-linejoin="round"/>
<text transform="translate(324.5 197.81) scale(1 1.06)" font-size="6.9" font-family='"Liberation Serif", serif' text-anchor="middle" fill="#141414">10.1</text>
<text transform="translate(311.8 216.71) scale(1 1.06)" font-size="6.9" font-family='"Liberation Serif", serif' text-anchor="middle" fill="#141414">00.2</text>
<text transform="translate(308.3 299.71) scale(1 1.06)" font-size="6.9" font-family='"Liberation Serif", serif' text-anchor="middle" fill="#141414">10.0</text>
<text transform="translate(351 280.11) scale(1 1.06)" font-size="6.9" font-family='"Liberation Serif", serif' text-anchor="middle" fill="#141414">10.2</text>
<text transform="translate(372.1 310.61) scale(1 1.06)" font-size="6.9" font-family='"Liberation Serif", serif' text-anchor="middle" fill="#141414">10.3</text>
<text transform="translate(384.1 291.21) scale(1 1.06)" font-size="6.9" font-family='"Liberation Serif", serif' text-anchor="middle" fill="#141414">11.2</text>
<text transform="translate(401 293.41) scale(1 1.06)" font-size="6.9" font-family='"Liberation Serif", serif' text-anchor="middle" fill="#141414">20.2</text>
<text transform="translate(411 307.01) scale(1 1.06)" font-size="6.9" font-family='"Liberation Serif", serif' text-anchor="middle" fill="#141414">20.3</text>
<text transform="translate(408.8 312.91) scale(1 1.06)" font-size="6.9" font-family='"Liberation Serif", serif' text-anchor="middle" fill="#141414">01.4</text>
<text transform="translate(422.9 314.01) scale(1 1.06)" font-size="6.9" font-family='"Liberation Serif", serif' text-anchor="middle" fill="#141414">12.0</text>
<text transform="translate(437 313.41) scale(1 1.06)" font-size="6.9" font-family='"Liberation Serif", serif' text-anchor="middle" fill="#141414">21.1</text>
<text transform="translate(453 306.91) scale(1 1.06)" font-size="6.9" font-family='"Liberation Serif", serif' text-anchor="middle" fill="#141414">11.4</text>
<text transform="translate(467.1 314.11) scale(1 1.06)" font-size="6.9" font-family='"Liberation Serif", serif' text-anchor="middle" fill="#141414">21.2</text>
<text transform="translate(478.9 308.71) scale(1 1.06)" font-size="6.9" font-family='"Liberation Serif", serif' text-anchor="middle" fill="#141414">03.0</text>
<text transform="translate(402 227.4) scale(1 1.03)" font-size="11.6" font-family='"Liberation Serif", serif' text-anchor="middle" fill="#141414">SPD</text>
<text transform="translate(450.5 198.4) scale(1 1)" font-size="12" font-family='"Liberation Sans", sans-serif' text-anchor="middle" fill="#141414">d</text>
</svg>
</body></html>
